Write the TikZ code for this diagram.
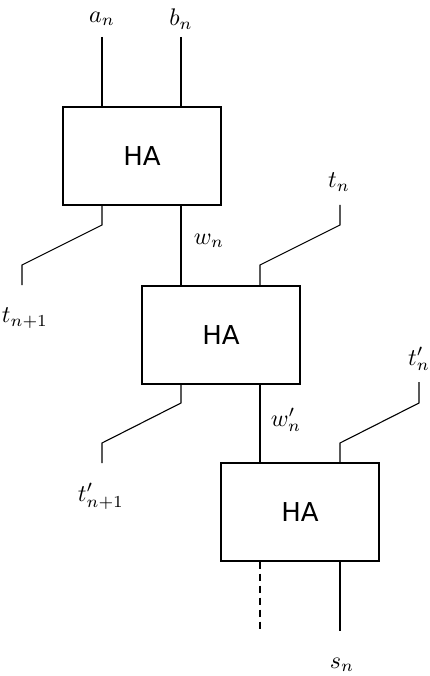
\documentclass[tikz,border=0pt]{standalone}
\usepackage{fontspec}
\newfontfamily\hafont{DejaVu Sans}
\newcommand{\biglbl}[1]{\scalebox{2.4}{$#1$}}
\begin{document}
\begin{tikzpicture}[x=1pt,y=-1pt,
  habox/.style={draw,line width=1.1pt,minimum width=158pt,minimum height=98pt,inner sep=0pt,font=\hafont\fontsize{26}{30}\selectfont},
  wire/.style={line width=1.1pt},
  lbl/.style={inner sep=0pt}]
\useasboundingbox (0,0) rectangle (430,676);
\node[habox] (h1) at (142,156) {HA};
\node[habox] (h2) at (221,335) {HA};
\node[habox] (h3) at (300,512) {HA};
% labels
\node[lbl] (an) at (102,19) {\biglbl{a_n}};
\node[lbl] (bn) at (181,19) {\biglbl{b_n}};
\node[lbl] (tn) at (339,182) {\biglbl{t_n}};
\node[lbl] (tn1) at (25,318) {\biglbl{t_{n+1}}};
\node[lbl] (wn) at (209,241) {\biglbl{w_n}};
\node[lbl] (tpn) at (419,359) {\biglbl{t'_n}};
\node[lbl] (tpn1) at (101,496) {\biglbl{t'_{n+1}}};
\node[lbl] (wpn) at (286,420) {\biglbl{w'_n}};
\node[lbl] (sn) at (342,665) {\biglbl{s_n}};
% coordinates
\coordinate (aT) at (102,37);
\coordinate (bT) at (181,37);
\coordinate (c1) at (102,225);
\coordinate (c2) at (22,265);
\coordinate (c3) at (22,285);
\coordinate (d0) at (340,205);
\coordinate (d1) at (340,225);
\coordinate (d2) at (260,265);
\coordinate (e1) at (181,403);
\coordinate (e2) at (102,443);
\coordinate (e3) at (102,463);
\coordinate (f0) at (419,382);
\coordinate (f1) at (419,403);
\coordinate (f2) at (340,443);
\coordinate (g1) at (260,631);
\coordinate (g2) at (340,631);
% wires
\draw[wire] (aT) -- (aT |- h1.north);
\draw[wire] (bT) -- (bT |- h1.north);
\draw[wire] (c1 |- h1.south) -- (c1) -- (c2) -- (c3);
\draw[wire] (181,0 |- h1.south) -- (181,0 |- h2.north);
\draw[wire] (d0) -- (d1) -- (d2) -- (d2 |- h2.north);
\draw[wire] (e1 |- h2.south) -- (e1) -- (e2) -- (e3);
\draw[wire] (260,0 |- h2.south) -- (260,0 |- h3.north);
\draw[wire] (f0) -- (f1) -- (f2) -- (f2 |- h3.north);
\draw[wire,dash pattern=on 7pt off 5pt] (g1 |- h3.south) -- (g1);
\draw[wire] (g2 |- h3.south) -- (g2);
\end{tikzpicture}
\end{document}
